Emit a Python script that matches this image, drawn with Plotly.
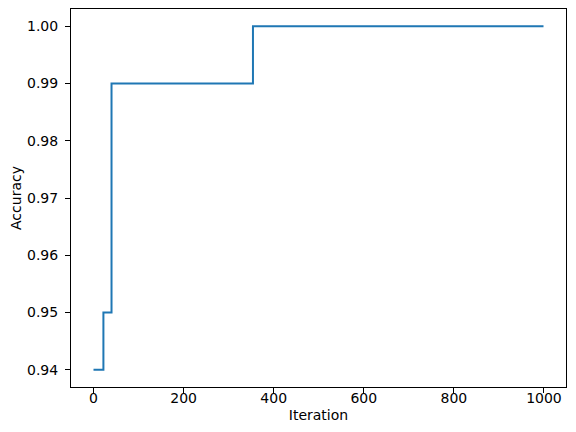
import plotly.graph_objects as go

# accuracy per iteration (step changes)
iterations = [0, 22, 40, 354, 999]
accuracy = [0.94, 0.95, 0.99, 1.00, 1.00]

x_ticks = [0, 200, 400, 600, 800, 1000]
y_ticks = [0.94, 0.95, 0.96, 0.97, 0.98, 0.99, 1.00]

fig = go.Figure()
fig.add_trace(go.Scatter(x=iterations, y=accuracy, mode='lines', line_shape='hv',
                         line=dict(color='#1f77b4', width=2)))

axis_style = dict(showline=True, linecolor='black', linewidth=1, mirror=True,
                  ticks='outside', ticklen=5, tickcolor='black', tickwidth=1,
                  showgrid=False, zeroline=False, automargin=False,
                  tickfont=dict(family='DejaVu Sans', size=14, color='black'),
                  title_font=dict(family='DejaVu Sans', size=14, color='black'))

# page body adds an 8px margin, so the figure is a bit smaller than the window
fig.update_layout(
    width=568, height=424,
    margin=dict(l=63, r=10, t=1, b=45),
    plot_bgcolor='white', paper_bgcolor='white',
    showlegend=False,
    xaxis=dict(axis_style, range=[-49.95, 1048.95], tickvals=x_ticks,
               ticklabelstandoff=-7,
               title=dict(text='Iteration', standoff=5)),
    yaxis=dict(axis_style, range=[0.937, 1.003], tickvals=y_ticks, tickformat='.2f',
               ticklabelstandoff=4,
               title=dict(text='Accuracy', standoff=5)),
)

fig.write_html("out.html")
